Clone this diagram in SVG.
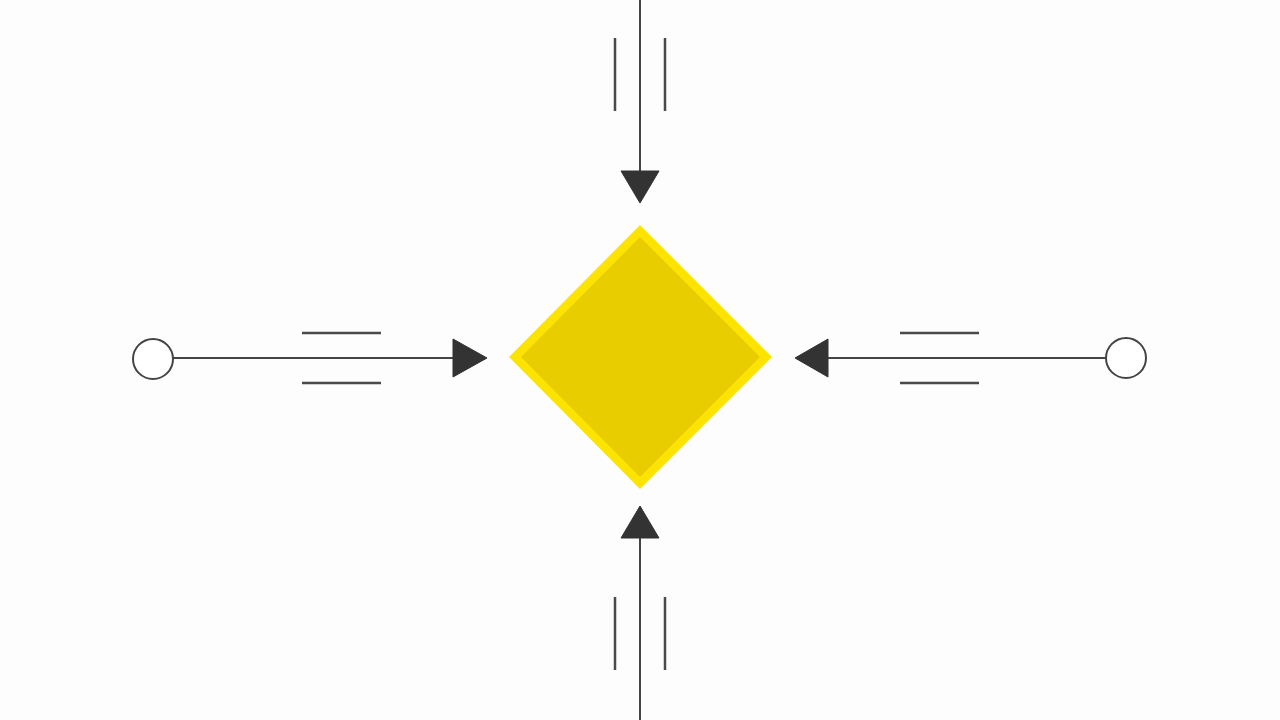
<svg xmlns="http://www.w3.org/2000/svg" width="1280" height="720" viewBox="0 0 1280 720">
<style>
.ln{stroke:#444;stroke-width:2;fill:none}
.tk{stroke:#4a4a4a;stroke-width:2.5;fill:none}
.hd{fill:#333;stroke:#333;stroke-width:1}
.ep{fill:#fff;stroke:#444;stroke-width:2}
</style>
<rect width="1280" height="720" fill="#fdfdfd"/>
<g id="center-diamond">
<polygon points="640,225 772,357 640,489 509,357" fill="#fde300"/>
<polygon points="640,237 760,357 640,477 521,357" fill="#e8cd00"/>
</g>
<g id="connectors">
<g id="arrow-left">
<circle class="ep" cx="153" cy="359" r="20"/>
<line class="ln" x1="173" y1="358" x2="456" y2="358"/>
<polygon class="hd" points="453,339 487,358 453,377"/>
<line class="tk" x1="302" y1="333" x2="381" y2="333"/>
<line class="tk" x1="302" y1="383" x2="381" y2="383"/>
</g>
<g id="arrow-right">
<circle class="ep" cx="1126" cy="358" r="20"/>
<line class="ln" x1="825" y1="358" x2="1106" y2="358"/>
<polygon class="hd" points="828,339 795,358 828,377"/>
<line class="tk" x1="900" y1="333" x2="979" y2="333"/>
<line class="tk" x1="900" y1="383" x2="979" y2="383"/>
</g>
<g id="arrow-top">
<line class="ln" x1="640" y1="0" x2="640" y2="174"/>
<polygon class="hd" points="621,171 659,171 640,203"/>
<line class="tk" x1="615" y1="38" x2="615" y2="111"/>
<line class="tk" x1="665" y1="38" x2="665" y2="111"/>
</g>
<g id="arrow-bottom">
<line class="ln" x1="640" y1="535" x2="640" y2="720"/>
<polygon class="hd" points="621,538 659,538 640,506"/>
<line class="tk" x1="615" y1="597" x2="615" y2="670"/>
<line class="tk" x1="665" y1="597" x2="665" y2="670"/>
</g>
</g>
</svg>
